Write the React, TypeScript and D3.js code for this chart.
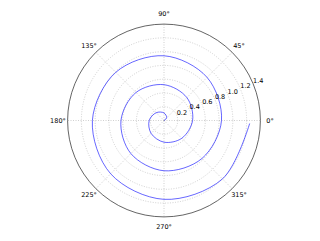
import React from "react";
import * as d3 from "d3";

const spiralThetaDeg = [0, 45, 90, 135, 180, 225, 270, 315, 360, 405, 450, 495, 540, 585, 630, 675, 720, 765, 810, 855, 900, 945, 990, 1035, 1078];
const spiralR = [0, 0.055, 0.11, 0.16, 0.215, 0.265, 0.315, 0.365, 0.415, 0.47, 0.52, 0.575, 0.625, 0.68, 0.73, 0.78, 0.835, 0.885, 0.94, 0.99, 1.04, 1.095, 1.145, 1.2, 1.245];
const radialTicks = [0.2, 0.4, 0.6, 0.8, 1.0, 1.2, 1.4];
const angleTicks = [0, 45, 90, 135, 180, 225, 270, 315];
const rMax = 1.4;

const W = 320, H = 241;
const cx = 164, cy = 120.5, R = 96.4;
const font = "DejaVu Sans, sans-serif";

export default function App() {
  const rScale = d3.scaleLinear().domain([0, rMax]).range([0, R]);
  // math angle (deg, CCW from east) -> d3 radial angle (rad, CW from north)
  const toD3 = (deg: number) => Math.PI / 2 - (deg * Math.PI) / 180;
  const pts = spiralThetaDeg.map((t, i) => [t, spiralR[i]] as [number, number]);
  const line = d3
    .lineRadial<[number, number]>()
    .angle((d) => toD3(d[0]))
    .radius((d) => rScale(d[1]))
    .curve(d3.curveCatmullRom.alpha(0.5));
  const xy = (deg: number, r: number) => {
    const a = (deg * Math.PI) / 180;
    return [cx + r * Math.cos(a), cy - r * Math.sin(a)];
  };
  return (
    <svg width={W} height={H} style={{ position: "absolute", left: 0, top: 0, background: "#fff" }}>
      <rect x={0} y={0} width={W} height={H} fill="#fff" />
      <g>
        {radialTicks
          .filter((t) => t < rMax)
          .map((t) => (
            <circle key={t} cx={cx} cy={cy} r={rScale(t)} fill="none" stroke="#b0b0b0" strokeWidth={0.6} strokeDasharray="1,1.5" />
          ))}
        {angleTicks.map((a) => {
          const [x, y] = xy(a, R);
          return <line key={a} x1={cx} y1={cy} x2={x} y2={y} stroke="#b0b0b0" strokeWidth={0.6} strokeDasharray="1,1.5" />;
        })}
      </g>
      <path d={line(pts) || ""} transform={`translate(${cx},${cy})`} fill="none" stroke="#0000ff" strokeWidth={0.6} />
      <circle cx={cx} cy={cy} r={R} fill="none" stroke="#222" strokeWidth={0.7} />
      {angleTicks.map((a) => {
        const [x, y] = xy(a, R * 1.1);
        return (
          <text key={a} x={x} y={y} fontFamily={font} fontSize={6.5} textAnchor="middle" dominantBaseline="central" fill="#000">
            {a}°
          </text>
        );
      })}
      {radialTicks.map((t) => {
        const [x, y] = xy(22.5, rScale(t));
        return (
          <text key={t} x={x} y={y - 0.5} fontFamily={font} fontSize={6.5} textAnchor="start" fill="#000">
            {t.toFixed(1)}
          </text>
        );
      })}
    </svg>
  );
}
